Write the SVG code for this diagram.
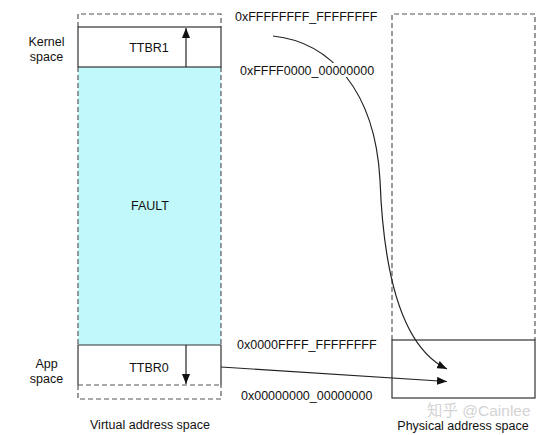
<svg xmlns="http://www.w3.org/2000/svg" width="554" height="435" viewBox="0 0 554 435">
<style>
text{font-family:"Liberation Sans",Arial,sans-serif;font-size:12.5px;fill:#111}
.c{text-anchor:middle}
.d{fill:none;stroke:#555;stroke-width:1.2;stroke-dasharray:5,3}
.s{fill:none;stroke:#333;stroke-width:1.2}
.a{fill:none;stroke:#222;stroke-width:1.2}
</style>
<defs>
<marker id="ah" viewBox="0 0 10 8" refX="10" refY="4" markerWidth="10" markerHeight="8" markerUnits="userSpaceOnUse" orient="auto">
<path d="M0,0 L10,4 L0,8 z" fill="#111"/>
</marker>
</defs>
<rect width="554" height="435" fill="#fff"/>
<g id="virtual-space">
<path class="d" d="M78,27 V14 H221 V27"/>
<rect x="78" y="67" width="143" height="278" fill="#c0f8fc"/>
<path class="d" d="M78,67 V345 M221,67 V345"/>
<path class="d" d="M78,385 V399 H221 V385"/>
<text class="c" x="150" y="429">Virtual address space</text>
</g>
<g id="ttbr1">
<rect class="s" x="78" y="27" width="143" height="40"/>
<text class="c" x="149" y="51.5">TTBR1</text>
<text class="c" x="46.5" y="46">Kernel</text>
<text class="c" x="46.5" y="60.5">space</text>
</g>
<g id="fault">
<text class="c" x="150" y="210">FAULT</text>
</g>
<g id="ttbr0">
<path class="s" d="M78,385 V345 H221 V385"/>
<path class="d" d="M78,385 H221"/>
<text class="c" x="149" y="371.5">TTBR0</text>
<text class="c" x="46.5" y="368">App</text>
<text class="c" x="46.5" y="382.5">space</text>
</g>
<g id="physical-space">
<path class="d" d="M392,340 V14 H535 V340"/>
<rect class="s" x="392" y="340" width="143" height="58"/>
<text class="c" x="463" y="429.5">Physical address space</text>
</g>
<g id="connectors">
<path class="a" d="M186,67 V28" marker-end="url(#ah)"/>
<path class="a" d="M186,345 V384" marker-end="url(#ah)"/>
<path class="a" d="M273,36 C330,42 375,90 380,180 C383,260 397,345 447,369" marker-end="url(#ah)"/>
<path class="a" d="M221,367 L447,381.5" marker-end="url(#ah)"/>
</g>
<g id="labels">
<text x="235" y="20.5">0xFFFFFFFF_FFFFFFFF</text>
<rect x="238" y="63" width="139" height="14" fill="#fff"/>
<text x="240" y="74.5">0xFFFF0000_00000000</text>
<text x="237" y="348.5">0x0000FFFF_FFFFFFFF</text>
<text x="241" y="399.5">0x00000000_00000000</text>
<text x="427" y="416" style="font-family:'Liberation Sans','Noto Sans CJK SC',sans-serif;font-size:15.5px;fill:#d4d4d4">知乎 @Cainlee</text>
</g>
</svg>
